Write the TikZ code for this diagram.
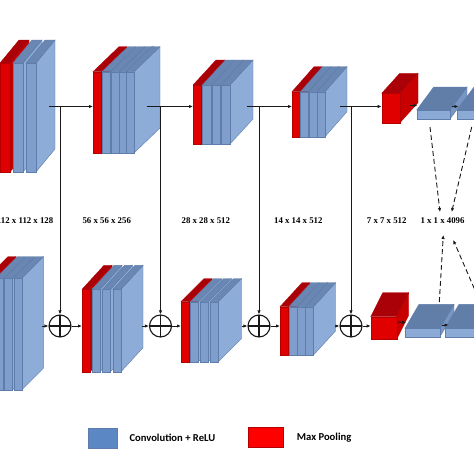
\documentclass[tikz,border=0pt]{standalone}
\usepackage{fontspec}
\setmainfont{Liberation Serif}
\newfontfamily\legfont{Carlito}
\usetikzlibrary{arrows.meta}
\definecolor{bfront}{RGB}{128,158,204}
\definecolor{bside}{RGB}{141,172,216}
\definecolor{btop}{RGB}{105,135,178}
\definecolor{bline}{RGB}{95,125,170}
\definecolor{rfront}{RGB}{225,0,0}
\definecolor{rside}{RGB}{200,0,0}
\definecolor{rtop}{RGB}{170,0,8}
\definecolor{rline}{RGB}{180,0,0}
\definecolor{ffront}{RGB}{140,170,214}
\definecolor{fside}{RGB}{120,150,196}
\definecolor{ftop}{RGB}{96,126,168}
\definecolor{legblue}{RGB}{91,135,197}
\definecolor{legred}{RGB}{255,0,0}
\newcommand\slabb[9]{%
  \filldraw[fill=#8] (#1+#4,#2) -- ++(#5,-#6) -- ++(0,#3-#2) -- ++(-#5,#6) -- cycle;
  \filldraw[fill=#9] (#1,#2) -- ++(#5,-#6) -- ++(#4,0) -- ++(-#5,#6) -- cycle;
  \filldraw[fill=#7] (#1,#2) rectangle (#1+#4,#3);
}
\newcommand\rslab[6]{\begin{scope}[draw=rline,line width=0.3pt]\slabb{#1}{#2}{#3}{#4}{#5}{#6}{rfront}{rside}{rtop}\end{scope}}
\newcommand\bslab[6]{\begin{scope}[draw=bline,line width=0.4pt]\slabb{#1}{#2}{#3}{#4}{#5}{#6}{bfront}{bside}{btop}\end{scope}}
\newcommand\fslab[6]{\begin{scope}[draw=bline,line width=0.4pt]\slabb{#1}{#2}{#3}{#4}{#5}{#6}{ffront}{fside}{ftop}\end{scope}}
\newcommand\blk[6]{%
  \foreach \xx [count=\ii] in {#1} {%
    \ifnum\ii=1 \rslab{\xx}{#2}{#3}{#4}{#5}{#6}\else\bslab{\xx}{#2}{#3}{#4}{#5}{#6}\fi
  }%
}
\tikzset{
  arr/.style={line width=0.9pt,draw=black!90,-{Latex[length=4pt,width=3.4pt]}},
  darr/.style={line width=0.9pt,draw=black!90,dash pattern=on 5pt off 3pt,-{Latex[length=4pt,width=3.4pt]}},
  oplus/.style={circle,draw=black!90,line width=1.1pt,minimum size=22pt,inner sep=0pt,
    path picture={\draw[line width=1.1pt,black!90] (path picture bounding box.north) -- (path picture bounding box.south)
      (path picture bounding box.west) -- (path picture bounding box.east);}},
  dimlab/.style={font=\fontsize{8.8}{10}\selectfont\bfseries,inner sep=0pt},
  leglab/.style={font=\legfont\fontsize{10.6}{12}\selectfont\bfseries,inner sep=0pt,anchor=west},
}
\begin{document}
\begin{tikzpicture}[x=1pt,y=-1pt]
\useasboundingbox (0,0) rectangle (474,474);
\fill[white] (0,0) rectangle (474,474);
\clip (0,0) rectangle (474,474);
% ---- top row blocks
\blk{0,13,26}{63}{172}{10}{19}{23}
\blk{93,102,111,119.5,126}{71.7}{153}{8}{26}{25}
\blk{193,202.5,212,221.5}{85}{144}{8.5}{23}{25}
\blk{292,300.5,309,317}{91.7}{136.7}{8}{22}{25}
\begin{scope}[draw=rline,line width=0.3pt]\slabb{381.7}{93.3}{122.7}{18.3}{18}{20}{rfront}{rside}{rtop}\end{scope}
\fslab{416.7}{110}{119}{33.3}{17}{23}
\fslab{457}{110}{119}{33.3}{17}{23}
% ---- bottom row blocks
\blk{-13.6,-4.5,4.6,13.7}{278.3}{390}{8}{21.6}{21.6}
\blk{82,92,102.5,113}{289.3}{371.7}{8}{22}{24}
\blk{181,190.5,200.5,210.5}{301.7}{361.7}{8}{23}{23}
\blk{280,289,297.5,305.5}{306.7}{355}{8}{22}{24}
\begin{scope}[draw=rline,line width=0.3pt]\slabb{370.7}{316.7}{339.3}{26}{12}{24}{rfront}{rside}{rtop}\end{scope}
\fslab{405}{328.3}{336.7}{35}{14}{24}
\fslab{445}{328.3}{336.7}{35}{14}{24}
% ---- connection coordinates
\coordinate (t1o) at (49,106.5);  \coordinate (t2i) at (93,106.5);
\coordinate (t2o) at (147,106.5); \coordinate (t3i) at (193,106.5);
\coordinate (t3o) at (247,106.5); \coordinate (t4i) at (292,106.5);
\coordinate (t4o) at (340,106.5); \coordinate (t5i) at (381.7,106.5);
\coordinate (t5o) at (410,105.5); \coordinate (t6i) at (417.5,105.5);
\coordinate (t6o) at (451.7,106.5); \coordinate (t7i) at (458.5,106.5);
\coordinate (v1) at (60,106.5); \coordinate (v2) at (160.5,106.5);
\coordinate (v3) at (259,106.5); \coordinate (v4) at (351,106.5);
\coordinate (b1o) at (42,326);  \coordinate (b2i) at (82,326);
\coordinate (b2o) at (142,326); \coordinate (b3i) at (181,326);
\coordinate (b3o) at (241.5,326); \coordinate (b4i) at (280,326);
\coordinate (b4o) at (335,326); \coordinate (b5i) at (370.7,326);
\coordinate (b5o) at (398,322); \coordinate (b6i) at (406,322.5);
\coordinate (b6o) at (441.7,325); \coordinate (b7i) at (448.5,325);
\node[oplus] (c1) at (60,326) {};
\node[oplus] (c2) at (160.5,326) {};
\node[oplus] (c3) at (259,326) {};
\node[oplus] (c4) at (351,326) {};
% ---- top arrows
\draw[arr] (t1o) -- (t2i);
\draw[arr] (t2o) -- (t3i);
\draw[arr] (t3o) -- (t4i);
\draw[arr] (t4o) -- (t5i);
\draw[arr] (t5o) -- (t6i);
\draw[arr] (t6o) -- (t7i);
% ---- skip connections
\draw[arr] (v1) -- (c1.north);
\draw[arr] (v2) -- (c2.north);
\draw[arr] (v3) -- (c3.north);
\draw[arr] (v4) -- (c4.north);
% ---- bottom arrows
\draw[arr] (b1o) -- (c1.west);  \draw[arr] (c1.east) -- (b2i);
\draw[arr] (b2o) -- (c2.west);  \draw[arr] (c2.east) -- (b3i);
\draw[arr] (b3o) -- (c3.west);  \draw[arr] (c3.east) -- (b4i);
\draw[arr] (b4o) -- (c4.west);  \draw[arr] (c4.east) -- (b5i);
\draw[arr] (b5o) -- (b6i);
\draw[arr] (b6o) -- (b7i);
% ---- labels
\node[dimlab,anchor=east] (l1) at (53.5,221) {112 x 112 x 128};
\node[dimlab] (l2) at (106.7,221) {56 x 56 x 256};
\node[dimlab] (l3) at (205.8,221) {28 x 28 x 512};
\node[dimlab] (l4) at (298.3,221) {14 x 14 x 512};
\node[dimlab] (l5) at (386.7,221) {7 x 7 x 512};
\node[dimlab] (l6) at (442.5,221) {1 x 1 x 4096};
% ---- dashed
\coordinate (f1) at (430,127); \coordinate (f1e) at (440,212);
\coordinate (f2) at (471.7,127); \coordinate (f2e) at (451.7,212);
\coordinate (f3) at (439.3,302); \coordinate (f3e) at (443.3,235);
\coordinate (f4) at (487,318); \coordinate (f4e) at (453.3,240);
\draw[darr] (f1) -- (f1e);
\draw[darr] (f2) -- (f2e);
\draw[darr] (f3) -- (f3e);
\draw[darr] (f4) -- (f4e);
% ---- legend
\filldraw[fill=legblue,draw=bline,line width=0.4pt] (88,428) rectangle (117,447.7);
\node[leglab] (lg1) at (129.3,437.5) {Convolution + ReLU};
\filldraw[fill=legred,draw=rline,line width=0.4pt] (248.3,427.5) rectangle (282.7,447);
\node[leglab] (lg2) at (296.7,437.5) {Max Pooling};
\end{tikzpicture}
\end{document}
